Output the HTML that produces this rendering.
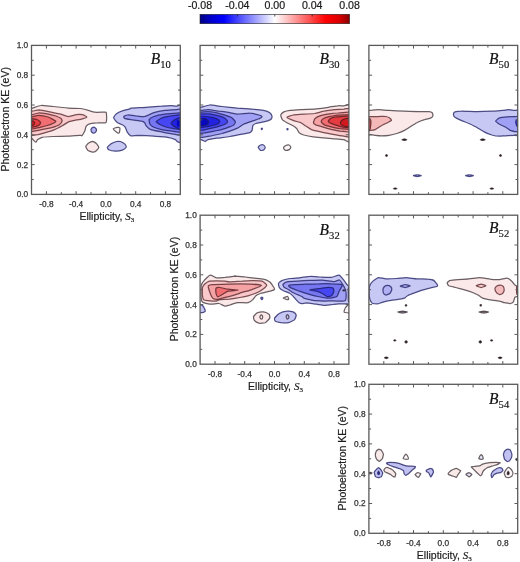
<!DOCTYPE html>
<html><head><meta charset="utf-8"><title>Figure</title>
<style>
html,body{margin:0;padding:0;background:#fff;}
svg{display:block;}
.tl{font-family:"Liberation Sans",Arial,sans-serif;font-size:8.3px;fill:#333;stroke:#333;stroke-width:0.25px;}
.cl{font-family:"Liberation Sans",Arial,sans-serif;font-size:10.6px;fill:#1a1a1a;stroke:#1a1a1a;stroke-width:0.2px;}
.al{font-family:"Liberation Sans",Arial,sans-serif;font-size:10.5px;fill:#1e1e1e;stroke:#1e1e1e;stroke-width:0.2px;}
.si{font-family:"Liberation Serif","Times New Roman",serif;font-style:italic;font-size:11px;}
.ss{font-family:"Liberation Serif","Times New Roman",serif;font-size:7px;}
.pl{font-family:"Liberation Serif","Times New Roman",serif;font-style:italic;font-size:15.5px;fill:#111;stroke:#111;stroke-width:0.2px;}
.sb{font-style:normal;font-size:10.6px;stroke-width:0.15px;}
</style></head>
<body>
<svg width="520" height="562" viewBox="0 0 520 562">
<defs><linearGradient id="cb" x1="0" x2="1" y1="0" y2="0"><stop offset="0" stop-color="#000080"/><stop offset="0.07" stop-color="#0000c8"/><stop offset="0.16" stop-color="#0000ff"/><stop offset="0.5" stop-color="#ffffff"/><stop offset="0.84" stop-color="#ff0000"/><stop offset="0.93" stop-color="#dc0000"/><stop offset="1" stop-color="#880000"/></linearGradient></defs>
<rect x="200" y="14.3" width="149.6" height="9.4" fill="url(#cb)" stroke="#222" stroke-width="0.6"/>
<text x="200" y="9" class="cl" text-anchor="middle">-0.08</text>
<text x="237.4" y="9" class="cl" text-anchor="middle">-0.04</text>
<text x="274.8" y="9" class="cl" text-anchor="middle">0.00</text>
<text x="312.2" y="9" class="cl" text-anchor="middle">0.04</text>
<text x="349.6" y="9" class="cl" text-anchor="middle">0.08</text>
<path d="M237.4 14.3v2.2 M274.8 14.3v2.2 M312.2 14.3v2.2" stroke="#222" stroke-width="0.8"/>
<g>
<clipPath id="cB10"><rect x="31.5" y="45.4" width="148.8" height="149.0"/></clipPath>
<g clip-path="url(#cB10)" stroke="rgba(30,16,24,0.66)" stroke-width="1.25" stroke-linejoin="round">
<path fill="#fbe9e9" d="M25.4 109.6 C26 106.8 30.1 108.9 31.5 108.5 C33 108.2 38.8 105.6 40.8 105.5 C42.8 105.3 50.5 106.3 53.1 106.5 C55.7 106.8 65.9 107.9 68.5 108.1 C71 108.3 78.9 108.3 80.8 108.5 C82.6 108.8 87.2 110 88.5 110.4 C89.8 110.7 93 112.1 94.6 112.2 C96.2 112.4 104.4 112.1 105.5 112.2 C106.6 112.3 106.4 112.8 106.4 113.7 C106.5 114.5 106.5 120.5 106.4 121.3 C106.4 122.2 106.3 122.7 105.5 122.8 C104.6 122.9 98.6 122.7 97.3 122.8 C96 122.8 92.4 123.1 91.5 123.3 C90.6 123.4 88.2 124.4 87.7 124.7 C87.2 125.1 86 126.5 85.8 127.1 C85.5 127.7 85.2 130.2 84.8 131 C84.4 131.8 82.3 135.4 81.9 135.8 C81.5 136.2 82 135.3 80.8 135.3 C79.5 135.4 71 136.1 68.5 136.2 C65.9 136.3 55.5 136.4 53.1 136.5 C50.6 136.6 43.7 137 42.3 137.3 C40.9 137.6 38.3 139.2 37.7 139.6 C37.1 140.1 36.2 142.2 35.8 142.2 C35.5 142.3 34.2 140.7 33.8 140.4 C33.4 140 32.3 138.6 31.5 138.4 C30.7 138.2 26 141.1 25.4 138.4 C24.8 135.7 24.8 112.4 25.4 109.6 Z"/>
<path fill="#f8c8ca" stroke="rgba(70,22,26,0.72)" d="M25.4 111.2 C26 108.9 31 111.3 32.3 111.2 C33.6 111 37.6 109.9 39.2 109.9 C40.9 110 48 111.5 50 111.9 C52 112.3 59 113.8 60.8 114.2 C62.5 114.7 67 116.5 68.5 116.5 C69.9 116.6 74.9 114.9 76.2 114.7 C77.4 114.5 81.3 114.5 82.3 114.7 C83.3 114.9 86.9 116.6 86.9 117 C86.9 117.4 83.5 118.5 82.3 118.8 C81.2 119.2 75.9 120.1 74.6 120.4 C73.3 120.7 69.6 121.4 68.5 121.9 C67.3 122.4 63.6 125.1 62.3 125.8 C61 126.5 56.2 129 54.6 129.6 C53 130.3 47 132.2 45.4 132.7 C43.8 133.2 38.9 134.4 37.7 134.7 C36.5 134.9 33.5 135.3 32.3 135.3 C31.2 135.4 26 137.6 25.4 135.3 C24.7 133.1 24.7 113.4 25.4 111.2 Z"/>
<path fill="#f4a2a4" stroke="rgba(70,22,26,0.72)" d="M27.4 114.7 C27.8 113.1 30.7 114.9 31.7 114.7 C32.8 114.6 37.2 113.1 38.7 113 C40.1 112.9 45.7 113.6 47.3 113.8 C48.9 114.1 54.7 115.6 56 116 C57.3 116.5 60.6 118.1 61.2 118.6 C61.7 119.1 62.2 120.6 62 121.2 C61.9 121.8 60.4 124.1 59.4 124.7 C58.5 125.3 53.2 127.2 51.6 127.7 C50.1 128.1 44.4 129.1 43 129.4 C41.6 129.7 38 130.5 36.9 130.7 C35.9 130.9 32.6 131.5 31.7 131.6 C30.8 131.7 27.8 133.2 27.4 131.6 C27 130 27 116.3 27.4 114.7 Z"/>
<path fill="#f06e72" stroke="rgba(70,22,26,0.72)" d="M27.4 116.9 C27.8 115.7 30.7 117 31.7 116.9 C32.8 116.7 37.1 115.4 38.7 115.4 C40.2 115.4 46.6 116.5 48.2 117 C49.8 117.6 55.3 120.6 55.8 121.2 C56.2 121.8 53.7 123.1 52.9 123.5 C52.1 123.9 48.5 125.2 47.3 125.5 C46.1 125.9 41.6 127 40.4 127.3 C39.2 127.5 35.1 128.4 34.3 128.6 C33.5 128.7 32.4 128.9 31.7 129 C31.1 129 27.8 130.1 27.4 129 C27 127.9 27 118 27.4 116.9 Z"/>
<path fill="#e43c40" stroke="rgba(70,22,26,0.72)" d="M27.4 118.6 C27.8 117.8 30.8 118.5 31.7 118.6 C32.6 118.7 36.1 119.1 36.9 119.5 C37.7 119.8 40.1 121.6 40.4 122.1 C40.6 122.6 39.9 124.3 39.5 124.7 C39.1 125.1 36.8 126.2 36.1 126.4 C35.3 126.6 32.5 127.2 31.7 127.3 C30.9 127.3 27.8 128.1 27.4 127.3 C27 126.5 27 119.4 27.4 118.6 Z"/>
<path fill="#d01a1e" stroke="rgba(70,22,26,0.72)" d="M28 120.7 C28.4 120.2 31.3 120.6 31.8 120.7 C32.3 120.8 33.3 121.4 33.6 121.6 C33.9 121.8 34.6 122.7 34.6 123 C34.6 123.3 34.1 124.5 33.8 124.7 C33.5 124.9 32.3 125.5 31.8 125.6 C31.3 125.7 28.4 126.1 28 125.6 C27.6 125.1 27.6 121.2 28 120.7 Z"/>
<path fill="#c8c8f5" stroke="rgba(26,26,96,0.76)" d="M113.7 117.5 C113.8 117 115.7 114.3 116.5 113.7 C117.3 113 121.1 111.2 122.3 110.8 C123.6 110.3 129.2 109.1 130 108.8 C130.8 108.6 129.3 108.2 130.8 108.1 C132.3 107.9 143.3 107.5 146.2 107.3 C149 107.1 159.2 106.2 161.5 106.1 C163.8 105.9 169.3 105.5 170.8 105.5 C172.2 105.5 175.5 106.1 176.9 106.1 C178.4 106 185.3 101.7 186.2 105 C187 108.3 186.9 137.7 186.2 141.2 C185.4 144.6 178.7 142.1 177.7 141.9 C176.7 141.8 176.3 140 175.4 139.6 C174.5 139.2 169.7 137.6 167.7 137.3 C165.7 137 156.6 136.4 153.8 136.2 C151.1 136 140.6 135.4 138.5 135.3 C136.3 135.3 131.8 136.1 130.8 135.8 C129.7 135.5 127.6 132.7 127.1 131.9 C126.6 131.1 125.7 127.8 125.2 127.1 C124.7 126.4 122.1 124.6 121.3 124.2 C120.6 123.8 118.1 123.2 117.5 122.8 C116.9 122.3 115 119.9 114.6 119.4 C114.3 118.9 113.5 118 113.7 117.5 Z"/>
<path fill="#a0a0f4" stroke="rgba(26,26,96,0.76)" d="M123.8 116.5 C124.1 116.2 126.6 115.1 127.7 115 C128.8 114.9 133.8 115.6 135.4 115.8 C137 115.9 142.9 116.8 144.6 116.5 C146.3 116.3 152 113.3 153.8 112.7 C155.7 112.1 162.5 110.7 164.6 110.4 C166.8 110.1 174.9 109.7 176.9 109.6 C178.9 109.5 185.3 107.3 186.2 109.6 C187 111.9 187.3 131.9 186.2 134.2 C185 136.5 176.1 134.4 173.8 134.2 C171.5 134 163.7 132.4 161.5 131.9 C159.4 131.5 152.2 130.2 150.8 129.6 C149.3 129 146.7 126.4 146.2 125.8 C145.6 125.1 145 123.1 144.6 122.7 C144.2 122.3 142.8 121.4 141.5 121.2 C140.2 120.9 132.3 119.9 130.8 119.6 C129.2 119.4 125.3 118.7 124.6 118.4 C124 118.1 123.6 116.9 123.8 116.5 Z"/>
<path fill="#7676f0" stroke="rgba(26,26,96,0.76)" d="M149.2 119.6 C149.6 118.9 152.4 117 153.8 116.5 C155.3 116 162.5 114.5 164.6 114.2 C166.8 113.9 174.9 113.3 176.9 113.2 C178.9 113.1 185.3 111.4 186.2 113.2 C187 114.9 187.4 130.2 186.2 131.9 C184.9 133.6 174.6 131.4 172.3 131.2 C170 130.9 163.3 130 161.5 129.6 C159.8 129.3 154.9 127.8 153.8 127.3 C152.8 126.8 150.4 124.9 150 124.2 C149.6 123.5 148.9 120.3 149.2 119.6 Z"/>
<path fill="#4646f2" stroke="rgba(26,26,96,0.76)" d="M156.2 121.6 C156.4 121.2 159.3 119.4 160 119 C160.7 118.6 163.3 117.4 164.2 117.1 C165.1 116.8 169 116.2 170 116 C171 115.8 173.6 115.5 175 115.4 C176.4 115.3 184.1 113.6 185 115 C185.9 116.4 185.6 128.6 185 130 C184.4 131.4 180.2 129.7 179 129.5 C177.8 129.3 173.5 128.5 172.3 128.3 C171.1 128.1 167.1 127.3 166 127 C164.9 126.7 161.8 125.4 161 125 C160.2 124.6 157.9 123.3 157.5 123 C157.1 122.7 156 122 156.2 121.6 Z"/>
<path fill="#2222e0" stroke="rgba(26,26,96,0.76)" d="M171.1 123.2 C171.1 122.8 172.5 121.4 173 121 C173.5 120.6 175.5 119.3 176 119 C176.5 118.7 177.7 118.1 178.5 118 C179.3 117.9 184.4 116.5 185 117.5 C185.6 118.5 185.6 128 185 129 C184.4 130 179.3 128.6 178.5 128.5 C177.7 128.4 176.5 127.8 176 127.5 C175.5 127.2 173.5 125.9 173 125.5 C172.5 125.1 171.1 123.6 171.1 123.2 Z"/>
<path fill="#0808c0" stroke="none" d="M177.5 119.5 C176.7 119.8 176.8 122.3 176.8 123 C176.8 123.7 176.7 126.2 177.5 126.5 C178.3 126.8 184.3 127.2 185 126.5 C185.7 125.8 185.7 120.2 185 119.5 C184.3 118.8 178.3 119.2 177.5 119.5 Z"/>
<path fill="#b4b4f2" stroke="rgba(26,26,96,0.76)" d="M91.1 129 C91.2 128.7 92.6 127.4 93 127.3 C93.4 127.2 95.1 127.6 95.4 127.9 C95.7 128.1 96.5 129.6 96.5 130 C96.5 130.4 95.7 132.1 95.4 132.4 C95.1 132.7 93.4 133.2 93 133.1 C92.6 133 91.5 131.8 91.3 131.4 C91.2 131.1 90.9 129.4 91.1 129 Z"/>
<path fill="#fbf7f7" d="M113.2 129 C113.1 128.5 116.4 127.4 117 127.3 C117.6 127.2 119.7 127.6 119.9 128.1 C120.1 128.6 119.6 131.9 119.4 132.4 C119.2 132.9 118.6 133.4 118 133.1 C117.4 132.8 113.3 129.6 113.2 129 Z"/>
<path fill="#fbe9e9" d="M85.8 146.3 C85.9 145.7 88 143.4 88.7 143 C89.3 142.5 91.8 141.3 92.5 141.3 C93.2 141.4 95.8 142.9 96.3 143.5 C96.9 144 98.8 146.6 98.8 147.3 C98.8 148 96.9 150.2 96.3 150.7 C95.8 151.1 93.3 152.2 92.5 152.1 C91.7 152.1 88.3 150.7 87.7 150.2 C87.1 149.7 85.7 147 85.8 146.3 Z"/>
<path fill="#c8c8f5" stroke="rgba(26,26,96,0.76)" d="M107.4 147.3 C107.6 146.8 109.9 144.5 110.8 143.9 C111.6 143.4 115.6 141.8 116.5 141.5 C117.4 141.3 119.6 141.3 120.4 141.5 C121.2 141.8 124.7 143.9 125.2 144.4 C125.7 145 126.4 146.8 126.2 147.3 C125.9 147.8 123.3 149.8 122.3 150.2 C121.3 150.6 116.8 151.2 115.6 151.2 C114.3 151.1 109.6 150.1 108.8 149.7 C108.1 149.4 107.2 147.8 107.4 147.3 Z"/>
</g>
</g>
<g>
<clipPath id="cB30"><rect x="200.1" y="45.4" width="148.8" height="149.0"/></clipPath>
<g clip-path="url(#cB30)" stroke="rgba(30,16,24,0.66)" stroke-width="1.25" stroke-linejoin="round">
<path fill="#c8c8f5" stroke="rgba(26,26,96,0.76)" d="M194.4 108.1 C195 105.1 199.1 107.6 200.5 107.3 C202 107 207.8 105.1 209.8 105 C211.8 104.9 219.5 106.3 222.1 106.5 C224.7 106.8 234.6 107.8 237.5 108.1 C240.3 108.3 250.4 108.9 252.8 109.2 C255.3 109.4 262 110.1 263.6 110.4 C265.2 110.7 269 112.1 269.8 112.7 C270.6 113.3 272 115.9 272.1 116.5 C272.1 117.2 271.3 119.1 270.5 119.6 C269.7 120.1 265 121.6 263.6 121.9 C262.3 122.3 256.9 123.1 255.9 123.5 C254.9 123.8 253.2 125.1 252.8 125.8 C252.5 126.4 252.4 129.7 252.1 130.4 C251.8 131 250.7 132.3 249.8 132.7 C248.8 133.1 243.9 133.9 242.1 134.2 C240.2 134.6 232.1 136.2 229.8 136.5 C227.5 136.9 219.5 137.8 217.5 138.1 C215.5 138.4 209.4 139.3 208.2 139.6 C207.1 139.9 205.7 141.4 205.2 141.5 C204.7 141.5 203.3 140.6 202.8 140.4 C202.4 140.2 201.3 139.7 200.5 139.6 C199.7 139.5 195 142.6 194.4 139.6 C193.8 136.7 193.8 111.1 194.4 108.1 Z"/>
<path fill="#a0a0f4" stroke="rgba(26,26,96,0.76)" d="M194.4 110.4 C195 107.9 200 110.5 201.3 110.4 C202.6 110.3 206.6 109.5 208.2 109.6 C209.9 109.7 217 110.9 219 111.2 C221 111.4 228 112.4 229.8 112.7 C231.5 113 235.6 114.2 237.5 114.2 C239.3 114.3 247.8 113.1 249.8 113.2 C251.8 113.2 257.9 114.7 259 115 C260.1 115.3 262.1 116.5 262.1 116.8 C262.1 117.2 260.1 118.4 259 118.8 C257.9 119.3 251.2 121.4 249.8 121.9 C248.3 122.4 244.8 123.7 243.6 124.2 C242.5 124.8 238.8 127.4 237.5 128.1 C236.2 128.7 231.2 130.7 229.8 131.2 C228.3 131.7 223.8 133 222.1 133.5 C220.4 133.9 213.2 135.4 211.3 135.8 C209.4 136.1 202.9 137.2 201.3 137.3 C199.7 137.5 195 139.8 194.4 137.3 C193.7 134.8 193.7 112.9 194.4 110.4 Z"/>
<path fill="#7676f0" stroke="rgba(26,26,96,0.76)" d="M196.4 112.1 C196.8 110.1 199.5 112.2 200.7 112.1 C201.9 112.1 207.5 111.5 209.4 111.7 C211.2 111.8 218.6 113.3 220.6 113.8 C222.7 114.4 229.6 116.6 231 117.3 C232.4 118 235.1 120.9 235.3 121.6 C235.6 122.4 234.3 124.5 233.6 125.1 C232.9 125.7 228.8 127.2 227.6 127.7 C226.3 128.1 222.1 129.5 220.6 129.9 C219.2 130.2 213.5 131.3 212 131.6 C210.4 131.9 205.2 132.7 204.2 132.9 C203.1 133 201.5 133.3 200.7 133.3 C200 133.4 196.8 135.3 196.4 133.3 C196 131.3 196 114.1 196.4 112.1 Z"/>
<path fill="#4646f2" stroke="rgba(26,26,96,0.76)" d="M196.4 113.8 C196.8 112.3 199.5 113.8 200.7 113.8 C201.9 113.8 207.8 113.7 209.4 113.8 C211 114 216.6 115.2 218 115.6 C219.5 116 224.1 117.6 225 118.2 C225.8 118.7 227.6 121.1 227.6 121.6 C227.6 122.2 225.8 123.8 225 124.2 C224.2 124.7 220.1 126 218.9 126.4 C217.7 126.8 213.4 127.8 212 128.1 C210.6 128.4 205.2 129.7 204.2 129.9 C203.1 130.1 201.5 130.2 200.7 130.3 C200 130.3 196.8 131.8 196.4 130.3 C196 128.8 196 115.4 196.4 113.8 Z"/>
<path fill="#2222e0" stroke="rgba(26,26,96,0.76)" d="M196.4 116 C196.8 114.9 199.5 115.9 200.7 116 C201.9 116.1 207.9 116.6 209.4 116.9 C210.8 117.1 215.3 118.2 216.3 118.6 C217.3 119 219.6 120.7 219.8 121.2 C219.9 121.7 218.7 123.4 218 123.8 C217.4 124.2 214 125.2 212.8 125.5 C211.7 125.8 207.1 126.6 205.9 126.8 C204.8 127 201.6 127.5 200.7 127.5 C199.8 127.6 196.8 128.6 196.4 127.5 C196 126.4 196 117.1 196.4 116 Z"/>
<path fill="#0808c0" stroke="rgba(26,26,96,0.76)" d="M196.4 118.2 C196.8 117.5 199.9 118.1 200.7 118.2 C201.5 118.2 204.3 118.3 205.1 118.6 C205.8 118.9 208.3 120.7 208.5 121.2 C208.8 121.7 208.1 123.8 207.7 124.2 C207.2 124.6 204.8 125.4 204.2 125.5 C203.5 125.7 201.5 125.8 200.7 125.8 C200 125.8 196.8 126.5 196.4 125.8 C196 125.1 196 118.9 196.4 118.2 Z"/>
<path fill="#fbe9e9" d="M280.8 115 C280.9 114.3 283 112.4 283.8 111.9 C284.7 111.5 288.4 110.6 290 110.4 C291.6 110.2 298.3 109.8 300.8 109.6 C303.2 109.5 313.6 109.1 316.2 108.8 C318.7 108.6 326.5 107.6 328.5 107.3 C330.5 107 336.3 105.9 337.7 105.8 C339.1 105.6 342.1 105.8 343.8 105.8 C345.6 105.7 355 101.6 356.2 105 C357.3 108.4 357 139.3 356.2 142.7 C355.3 146.1 348.1 141.4 346.9 141.2 C345.8 140.9 345 139.8 343.8 139.6 C342.7 139.4 336.5 139 334.6 138.8 C332.7 138.7 325.9 138 323.8 137.8 C321.8 137.6 314.9 137.1 313.1 136.8 C311.2 136.6 305.1 135.4 303.8 135 C302.6 134.6 299.9 133.3 299.2 132.7 C298.6 132.1 297.5 129.5 296.9 128.8 C296.3 128.2 294 126.3 293.1 125.8 C292.1 125.2 287.9 123.3 286.9 122.7 C285.9 122.1 282.9 120.3 282.3 119.6 C281.7 118.9 280.6 115.7 280.8 115 Z"/>
<path fill="#f8c8ca" stroke="rgba(70,22,26,0.72)" d="M286.9 117.3 C286.9 116.8 291.5 115.3 293.1 115 C294.7 114.7 301.8 114.4 303.8 114.2 C305.9 114.1 312.7 113.7 314.6 113.5 C316.5 113.2 322 111.5 323.8 111.2 C325.7 110.8 332.7 109.8 334.6 109.6 C336.5 109.4 341.8 109.2 343.8 109.2 C345.9 109.1 355 106.3 356.2 108.8 C357.3 111.4 357.3 134 356.2 136.5 C355 139.1 346.1 136.4 343.8 136.2 C341.5 136 333.7 134.6 331.5 134.2 C329.4 133.8 322.6 132.4 320.8 131.9 C318.9 131.5 313 130.2 311.5 129.6 C310.1 129 306.4 126.4 305.4 125.8 C304.4 125.1 301.9 123.2 300.8 122.7 C299.6 122.2 294.4 120.9 293.1 120.4 C291.8 119.9 286.9 117.8 286.9 117.3 Z"/>
<path fill="#f4a2a4" stroke="rgba(70,22,26,0.72)" d="M313.7 121.6 C313.8 121.2 314.7 118.7 315.4 118.2 C316 117.6 319.3 116 320.6 115.6 C321.9 115.2 327.6 114.1 329.2 113.8 C330.8 113.6 336.1 113.1 337.9 113 C339.7 112.8 346.8 112.2 348.3 112.1 C349.7 112 353 110.3 353.5 112.1 C353.9 114 353.9 130.2 353.5 132 C353 133.9 349.6 132.1 348.3 132 C347 131.9 341.2 131.4 339.6 131.2 C338 130.9 332.6 129.8 331 129.4 C329.3 129 323.7 127.2 322.3 126.8 C320.9 126.4 317.1 125.4 316.2 125.1 C315.4 124.8 313.9 123.7 313.7 123.4 C313.4 123 313.5 122.1 313.7 121.6 Z"/>
<path fill="#f06e72" stroke="rgba(70,22,26,0.72)" d="M321.4 120.8 C321.6 120.3 323.2 118.6 324 118.2 C324.8 117.8 328.8 116.7 330.1 116.4 C331.4 116.2 336.2 115.3 337.9 115.1 C339.6 115 346.8 114.8 348.3 114.7 C349.7 114.7 353 113.3 353.5 114.7 C353.9 116.1 353.9 128.1 353.5 129.4 C353 130.8 349.6 129.5 348.3 129.4 C347 129.3 341.2 128.8 339.6 128.6 C338 128.3 332.3 127.2 331 126.8 C329.6 126.5 325.8 125.5 324.9 125.1 C324.1 124.7 322.2 123.3 321.9 122.9 C321.6 122.5 321.2 121.2 321.4 120.8 Z"/>
<path fill="#e43c40" stroke="rgba(70,22,26,0.72)" d="M328.4 120.8 C328.5 120.4 330.2 118.5 331 118.2 C331.7 117.8 335 117 336.2 116.9 C337.3 116.7 341.9 116.5 343.1 116.4 C344.2 116.4 347.3 116 348.3 116 C349.2 116 353 114.9 353.5 116 C353.9 117.1 353.9 126.6 353.5 127.7 C353 128.8 349.4 127.8 348.3 127.7 C347.1 127.6 342.6 127.1 341.3 126.8 C340.1 126.5 335.6 125.1 334.4 124.7 C333.3 124.3 329.8 122.9 329.2 122.5 C328.7 122.1 328.2 121.2 328.4 120.8 Z"/>
<path fill="#d01a1e" stroke="rgba(70,22,26,0.72)" d="M340.5 122.5 C340.6 122.1 341.7 120.3 342.2 119.9 C342.7 119.5 345.1 118.8 345.7 118.6 C346.2 118.5 347.5 118.4 348.3 118.3 C349 118.3 353 117.6 353.5 118.3 C353.9 119.1 353.9 126 353.5 126.8 C353 127.6 349.1 126.9 348.3 126.8 C347.5 126.8 345.5 126.6 344.8 126.4 C344.2 126.2 341.8 125 341.3 124.7 C340.9 124.3 340.4 122.9 340.5 122.5 Z"/>
<path fill="#a0a0f4" stroke="rgba(26,26,96,0.76)" d="M261.3 128.5 C261.4 128.4 262 128.2 262.1 128.2 C262.2 128.3 262.4 128.9 262.4 129 C262.3 129.1 261.7 129.5 261.6 129.5 C261.5 129.4 261.3 128.7 261.3 128.5 Z"/>
<path fill="#c8c8f5" stroke="rgba(26,26,96,0.76)" d="M258.2 147.3 C258.2 146.8 260 145.2 260.5 145 C261 144.8 263.2 144.8 263.6 145 C264 145.2 265.2 146.8 265.2 147.3 C265.2 147.8 264 149.8 263.6 150.1 C263.2 150.4 261 150.6 260.5 150.4 C260 150.1 258.2 147.8 258.2 147.3 Z"/>
<path fill="#fbf7f7" d="M283.5 148.1 C283.5 147.6 284.9 146.1 285.4 145.8 C285.9 145.5 288.7 144.9 289.2 145 C289.7 145.1 290.8 146.9 290.8 147.3 C290.8 147.7 289.7 149.3 289.2 149.6 C288.7 149.9 285.9 150.5 285.4 150.4 C284.9 150.2 283.5 148.5 283.5 148.1 Z"/>
<path fill="#a0a0f4" stroke="rgba(26,26,96,0.76)" d="M286.9 128.8 C287 128.7 287.6 128.5 287.7 128.5 C287.8 128.6 288 129.3 288 129.5 C288 129.6 287.3 129.8 287.2 129.8 C287.1 129.7 286.9 129 286.9 128.8 Z"/>
</g>
</g>
<g>
<clipPath id="cB50"><rect x="368.9" y="45.4" width="148.8" height="149.0"/></clipPath>
<g clip-path="url(#cB50)" stroke="rgba(30,16,24,0.66)" stroke-width="1.25" stroke-linejoin="round">
<path fill="#fbe9e9" d="M361.4 111.2 C362 109.1 368.2 110.5 369.1 110.4 C370 110.3 371.4 110.1 372.2 110.1 C372.9 110 376.9 109.6 378.3 109.6 C379.7 109.6 386.9 110.3 389.1 110.4 C391.3 110.5 401.9 111.1 404.5 111.2 C407 111.3 417.8 111.6 419.8 111.6 C421.9 111.7 428.1 111.5 429.1 111.6 C430.1 111.7 431.8 112.3 432.2 112.7 C432.5 113 433.1 115.3 432.9 115.8 C432.8 116.2 431.3 117.8 430.6 118.1 C429.9 118.4 425.6 119.2 424.5 119.6 C423.3 120 417.9 122.1 416.8 122.7 C415.6 123.3 411.6 125.9 410.6 126.5 C409.6 127.2 405.6 129.8 404.5 130.4 C403.3 131 398.1 133.1 396.8 133.5 C395.5 133.9 390.4 135.1 389.1 135.3 C387.8 135.5 382.5 135.8 381.4 135.8 C380.2 135.8 376.1 135.4 375.2 135.3 C374.3 135.2 371.8 134.7 370.6 134.7 C369.5 134.6 362.2 136.7 361.4 134.7 C360.6 132.7 360.7 113.2 361.4 111.2 Z"/>
<path fill="#f5b8b8" stroke="rgba(70,22,26,0.72)" d="M361.4 116.5 C362 115.4 367.7 116.5 369.1 116.5 C370.5 116.5 376.9 116.5 378.3 116.5 C379.7 116.5 385 116.4 386 116.5 C387 116.7 389.4 117.8 389.8 118.1 C390.3 118.4 391.6 120 391.4 120.4 C391.2 120.8 388.4 122.2 387.5 122.7 C386.7 123.1 382.4 125.2 381.4 125.8 C380.4 126.3 376.1 129.2 375.2 129.6 C374.3 130 371.8 130.3 370.6 130.4 C369.5 130.5 362.2 131.8 361.4 130.7 C360.6 129.5 360.7 117.7 361.4 116.5 Z"/>
<path fill="#d84848" stroke="rgba(70,22,26,0.72)" d="M361.4 118.1 C362 117.1 368.3 117.8 369.1 118.1 C369.9 118.3 370.8 120.5 370.9 121.2 C371.1 121.8 370.7 125.1 370.6 125.8 C370.5 126.5 370.6 129.3 369.8 129.6 C369.1 129.9 362.1 130.6 361.4 129.6 C360.7 128.7 360.7 119 361.4 118.1 Z"/>
<path fill="#c8c8f5" stroke="rgba(26,26,96,0.76)" d="M453.4 114.2 C453.4 113.8 454.3 112.2 454.9 111.9 C455.6 111.7 459.3 111.2 461.1 111.2 C462.9 111.1 473.9 111.6 476.5 111.6 C479 111.6 489.7 111.3 491.8 111.2 C494 111.1 501.2 110.5 502.6 110.4 C504 110.3 507.7 109.6 508.8 109.6 C509.8 109.6 513.6 110.3 514.9 110.4 C516.2 110.4 523.4 108.3 524.2 110.4 C524.9 112.5 524.9 133.2 524.2 135.3 C523.4 137.4 516.5 135.3 514.9 135.3 C513.4 135.3 507 135.7 505.7 135.8 C504.4 135.8 500.7 136.3 499.5 136.2 C498.4 136.2 493.1 135.4 491.8 135 C490.6 134.6 485.4 132.6 484.2 131.9 C482.9 131.3 477.7 128 476.5 127.3 C475.2 126.6 470.1 124 468.8 123.5 C467.5 122.9 462.2 120.9 461.1 120.4 C459.9 119.9 455.6 117.8 454.9 117.3 C454.3 116.8 453.4 114.7 453.4 114.2 Z"/>
<path fill="#a0a0f4" stroke="rgba(26,26,96,0.76)" d="M495.7 121.2 C495.7 120.6 498.6 118.1 499.5 117.8 C500.5 117.4 505.9 116.9 507.2 116.8 C508.5 116.7 513.5 116.6 514.9 116.5 C516.3 116.5 523.4 115.3 524.2 116.5 C524.9 117.8 524.9 129.9 524.2 131.2 C523.4 132.4 516.1 131.7 514.9 131.6 C513.8 131.6 511.1 130.7 510.3 130.4 C509.5 130 506.6 127.8 505.7 127.3 C504.8 126.8 500.4 124.7 499.5 124.2 C498.7 123.7 495.7 121.7 495.7 121.2 Z"/>
<path fill="#4646f2" stroke="rgba(26,26,96,0.76)" d="M515.7 121.9 C515.7 121.3 516.5 119.8 517.2 119.6 C517.9 119.4 523.6 119.1 524.2 119.6 C524.7 120.1 524.7 125.2 524.2 125.8 C523.6 126.3 517.9 126.9 517.2 126.5 C516.5 126.2 515.7 122.5 515.7 121.9 Z"/>
<path fill="#2a2a2a" d="M402 139.7 C402 139.6 404 138.9 404.4 138.9 C404.8 138.9 406.8 139.6 406.8 139.7 C406.8 139.8 404.8 140.4 404.4 140.4 C404 140.4 402 139.8 402 139.7 Z"/>
<path fill="#2a2a2a" d="M480.3 139.7 C480.3 139.6 482.3 138.9 482.7 138.9 C483.1 138.9 485.1 139.6 485.1 139.7 C485.1 139.8 483.1 140.4 482.7 140.4 C482.3 140.4 480.3 139.8 480.3 139.7 Z"/>
<path fill="#2a2a2a" d="M385.6 155.4 C385.6 155.2 386.4 154.5 386.5 154.5 C386.6 154.5 387.4 155.2 387.4 155.4 C387.4 155.6 386.6 156.3 386.5 156.3 C386.4 156.3 385.6 155.6 385.6 155.4 Z"/>
<path fill="#2a2a2a" d="M499.6 155.4 C499.6 155.2 500.4 154.5 500.5 154.5 C500.6 154.5 501.4 155.2 501.4 155.4 C501.4 155.6 500.6 156.3 500.5 156.3 C500.4 156.3 499.6 155.6 499.6 155.4 Z"/>
<path fill="#c8c8f5" stroke="rgba(26,26,96,0.76)" d="M413.3 175.7 C413.3 175.5 416.6 174.8 417.3 174.8 C418 174.8 421.3 175.5 421.3 175.7 C421.3 175.8 418 176.6 417.3 176.6 C416.6 176.6 413.3 175.8 413.3 175.7 Z"/>
<path fill="#c8c8f5" stroke="rgba(26,26,96,0.76)" d="M465.5 175.7 C465.5 175.5 468.8 174.8 469.5 174.8 C470.2 174.8 473.5 175.5 473.5 175.7 C473.5 175.8 470.2 176.6 469.5 176.6 C468.8 176.6 465.5 175.8 465.5 175.7 Z"/>
<path fill="#2a2a2a" d="M393.4 188.6 C393.4 188.5 394.9 187.9 395.2 187.9 C395.5 187.9 397 188.5 397 188.6 C397 188.7 395.5 189.2 395.2 189.2 C394.9 189.2 393.4 188.7 393.4 188.6 Z"/>
<path fill="#2a2a2a" d="M490 188.6 C490 188.5 491.5 187.9 491.8 187.9 C492.1 187.9 493.6 188.5 493.6 188.6 C493.6 188.7 492.1 189.2 491.8 189.2 C491.5 189.2 490 188.7 490 188.6 Z"/>
</g>
</g>
<g>
<clipPath id="cB32"><rect x="200.1" y="215.2" width="148.8" height="149.0"/></clipPath>
<g clip-path="url(#cB32)" stroke="rgba(30,16,24,0.66)" stroke-width="1.25" stroke-linejoin="round">
<path fill="#fbe9e9" d="M201.2 285.6 C201.4 283.9 203.3 281.4 204.2 280.4 C205 279.4 209.1 275.4 210.2 275.2 C211.4 274.9 214.9 277.6 216.3 277.8 C217.7 278 223.2 277.5 225 277.4 C226.7 277.2 234.5 276.2 235.3 276.1 C236.2 275.9 233.5 276 234.4 276.1 C235.3 276.2 243.3 276.8 245.2 277 C247 277.2 252.7 277.9 254.4 278.1 C256.1 278.3 262.2 278.8 263.6 279.2 C265.1 279.5 268.9 281.3 269.8 281.9 C270.6 282.5 272.4 285.1 272.8 285.8 C273.3 286.5 274.7 289.1 274.4 289.6 C274.1 290.1 271.1 290.8 269.8 291.2 C268.5 291.5 261.8 293 260.5 293.5 C259.2 293.9 256.6 295.2 255.9 295.8 C255.2 296.3 253.6 299 252.8 299.6 C252.1 300.3 249.7 302.4 248.2 302.7 C246.8 303 239.2 302.5 237.5 302.7 C235.7 302.9 230.9 304.7 229.8 305 C228.6 305.3 226.2 306.4 225.2 306.2 C224.1 306.1 220.2 303.7 219 303.5 C217.8 303.3 213.2 304.2 212 304.2 C210.8 304.2 206.8 303.5 205.9 303.3 C205 303.1 202.9 302.5 202.5 302 C202 301.6 201.3 300.1 201.2 298.6 C201 297 200.9 287.3 201.2 285.6 Z"/>
<path fill="#f8c8ca" stroke="rgba(70,22,26,0.72)" d="M202.5 287.3 C202.7 286.2 204.4 284.4 205.1 283.8 C205.7 283.3 208.3 281.5 209.4 281.2 C210.4 281 214.9 280.8 216.3 280.8 C217.8 280.8 223.7 281.1 225 281.2 C226.2 281.4 228.2 281.9 229.8 281.9 C231.4 281.9 239.9 281.3 242.1 281.2 C244.2 281 251 280.7 252.8 280.7 C254.7 280.7 260.8 280.8 262.1 281.2 C263.4 281.6 266.4 284.4 266.7 285 C267 285.6 265.5 287 265 287.5 C264.5 288 261.9 289.9 261 290.5 C260.1 291.1 256.2 293 255 293.5 C253.8 294 249.4 295.4 248 295.8 C246.6 296.2 241.7 297.2 240 297.5 C238.3 297.8 231.7 298.9 229.8 299.2 C227.8 299.4 220.3 299.6 219 299.8 C217.7 300 217.4 301.1 216.3 301.2 C215.2 301.2 208.8 300.8 207.7 300.7 C206.5 300.6 204.2 300.3 203.8 299.9 C203.3 299.4 202.6 297.1 202.5 296 C202.3 294.8 202.2 288.4 202.5 287.3 Z"/>
<path fill="#f4a2a4" stroke="rgba(70,22,26,0.72)" d="M208.5 285.8 C208.8 285.5 210.1 284.9 211.9 284.7 C213.7 284.5 224.4 284.2 228.1 284.1 C231.8 284 248 284 251.1 284.1 C254.2 284.2 261.5 285.1 261.5 285.6 C261.5 286.1 253.1 289.1 251.1 289.8 C249.1 290.5 241.7 292.6 239.6 293.3 C237.5 294 230 296.3 228.1 296.8 C226.2 297.3 220.2 298.9 218.8 299.1 C217.4 299.3 213.9 299 213.1 298.5 C212.3 298 210.6 294.3 210.2 293.3 C209.8 292.3 208.7 288.7 208.5 288 C208.3 287.3 208.2 286.1 208.5 285.8 Z"/>
<path fill="#f06e72" stroke="rgba(70,22,26,0.72)" d="M216 288.1 C216.4 287.6 218.9 287.4 220 287.5 C221.1 287.6 226.4 289 228.1 289.2 C229.8 289.4 238.2 289.9 238.2 290.1 C238.2 290.3 229.6 290.8 228.1 291.2 C226.6 291.6 223.3 294 222.3 294.5 C221.3 295 218.3 296.9 217.7 296.8 C217.1 296.7 216.2 294.1 216 293.3 C215.8 292.5 215.6 288.6 216 288.1 Z"/>
<path fill="#c8c8f5" stroke="rgba(26,26,96,0.76)" d="M278.5 283.5 C278.7 282.8 281.2 280.8 282.3 280.4 C283.4 279.9 288.3 278.8 290 278.5 C291.7 278.3 298.9 277.8 300.8 277.6 C302.6 277.4 308.1 276.4 310 276.4 C311.9 276.3 318.8 276.9 320.8 277 C322.8 277.1 329.8 277.5 331.5 277.3 C333.2 277.1 337.9 275 339 275.2 C340.1 275.4 342.6 278.7 343.4 279.6 C344.2 280.5 346.8 284.5 347.4 285.2 C348 285.9 349.6 286.1 350 287 C350.4 287.9 352 293.5 352 295 C352 296.5 350.6 302.8 350 303.6 C349.4 304.4 346.6 303.9 345.8 303.9 C345 303.9 342.2 303.7 341 303.8 C339.8 303.9 334.6 304.4 333 304.5 C331.4 304.6 325.4 305.3 323.8 305.3 C322.3 305.3 317.7 304.5 316.2 304.2 C314.6 304 308.2 302.9 306.9 302.8 C305.6 302.8 302.7 303.6 302 303.6 C301.3 303.6 299.6 303.1 299.1 302.8 C298.6 302.5 296.8 300.5 296.2 299.9 C295.6 299.3 293.4 296.5 292.8 295.9 C292.2 295.3 290.2 293.5 289.3 293 C288.4 292.5 284.4 291.2 283.5 290.7 C282.6 290.2 280 288.5 279.5 287.8 C279 287.1 278.2 284.2 278.5 283.5 Z"/>
<path fill="#a0a0f4" stroke="rgba(26,26,96,0.76)" d="M283.1 284.2 C283.4 283.9 285.6 282.2 286.9 281.9 C288.3 281.6 295.5 281.3 297.7 281.2 C299.8 281 307.7 280.5 310 280.4 C312.3 280.3 320.1 280 322.3 280.1 C324.5 280.2 332.4 281.5 334 281.5 C335.6 281.5 338.6 279.8 339.4 280 C340.2 280.2 341.7 282.8 342.2 283.6 C342.7 284.4 344.6 287.4 345 288.4 C345.4 289.4 346.2 292.9 346.2 294 C346.2 295.1 346 299.7 345.4 300.4 C344.8 301.1 341.4 301.2 340.2 301.2 C339 301.2 334.5 300.8 333 300.8 C331.5 300.8 325.7 301.2 323.8 301.2 C322 301.1 314.9 300.7 313.1 300.4 C311.2 300.1 304.9 298.4 303.8 298.1 C302.8 297.7 302.6 296.8 302 296.5 C301.4 296.2 298.3 295 297.4 294.6 C296.5 294.2 293.1 292.7 292.2 292.2 C291.3 291.7 289 290 288.2 289.5 C287.4 289 284.6 287.6 284.1 287.2 C283.6 286.8 283.1 285.3 283 285 C282.9 284.7 282.7 284.5 283.1 284.2 Z"/>
<path fill="#7676f0" stroke="rgba(26,26,96,0.76)" d="M288.5 285.8 C288.6 285.5 291.5 284.8 293.1 284.7 C294.7 284.5 302.9 284.3 305.4 284.2 C307.8 284.1 316.8 283.8 319.2 283.8 C321.7 283.7 329.5 283.7 331.5 283.8 C333.6 283.8 340 284.2 341 284.4 C342 284.6 342.3 285.2 342.2 285.8 C342.1 286.4 339.9 289.8 339.4 290.8 C338.9 291.8 337.6 295.8 337 296.4 C336.4 297 333.9 297.4 333 297.6 C332.1 297.8 328.3 298.2 326.9 298.1 C325.5 298 319.4 296.9 317.7 296.5 C316 296.2 310.2 294.7 308.5 294.2 C306.7 293.7 300.8 291.7 299.2 291.2 C297.7 290.6 292.5 288.6 291.5 288.1 C290.5 287.6 288.3 286.1 288.5 285.8 Z"/>
<path fill="#4646f2" stroke="rgba(26,26,96,0.76)" d="M310 289.9 C310.4 289.7 319 288.6 320.8 288.4 C322.5 288.1 327.3 287.3 328.5 287.3 C329.6 287.3 332.6 287.6 333.1 288.1 C333.6 288.5 334 291.2 333.8 291.9 C333.7 292.6 332.2 295.3 331.5 295.8 C330.9 296.2 327.8 296.8 326.9 296.5 C326.1 296.3 323.3 294 322.3 293.5 C321.3 293 317.3 291.5 316.2 291.2 C315 290.8 309.6 290.2 310 289.9 Z"/>
<path fill="#c8c8f5" stroke="rgba(26,26,96,0.76)" d="M196.4 304.6 C196.8 303.9 199.7 304.5 200.3 304.6 C200.9 304.7 202.1 305.1 202.5 305.5 C202.9 305.9 204.4 308.4 204.6 308.9 C204.9 309.5 205.3 311.2 205.1 311.5 C204.9 311.9 202.9 312.5 202.5 312.6 C202 312.7 200.9 312.6 200.3 312.6 C199.7 312.6 196.8 313.3 196.4 312.6 C196 311.8 196 305.4 196.4 304.6 Z"/>
<path fill="#fbe9e9" d="M253.6 316.5 C253.9 315.8 256.5 313.1 257.5 312.7 C258.4 312.3 262.5 311.8 263.6 311.9 C264.7 312.1 268.4 313.7 269 314.2 C269.6 314.8 270.1 317.3 269.8 318.1 C269.4 318.9 266.2 322.2 265.2 322.7 C264.1 323.2 260 323.4 259 323.2 C258 322.9 254.9 321 254.4 320.4 C253.9 319.8 253.3 317.3 253.6 316.5 Z"/>
<path fill="none" d="M259.8 317.3 C259.7 316.9 260.6 315.1 260.8 315 C261.1 314.9 262.2 315.5 262.4 315.8 C262.5 316.1 262.6 317.8 262.5 318.1 C262.4 318.4 261.6 319.2 261.3 319.2 C261 319.1 259.8 317.7 259.8 317.3 Z"/>
<path fill="#c8c8f5" stroke="rgba(26,26,96,0.76)" d="M274.6 318.1 C275 317.4 278.1 314.1 279.2 313.5 C280.4 312.8 285.6 311.3 286.9 311.2 C288.2 311 292.2 311.6 293.1 311.9 C293.9 312.3 296 314.3 296.2 315 C296.3 315.7 295.3 318.9 294.6 319.6 C293.9 320.3 289.8 322.4 288.5 322.7 C287.2 323 282 322.8 280.8 322.7 C279.5 322.5 276 321.6 275.4 321.2 C274.8 320.7 274.3 318.8 274.6 318.1 Z"/>
<path fill="none" d="M286.2 317 C286.1 316.6 286.7 314.8 286.9 314.7 C287.1 314.5 288.3 315.2 288.5 315.5 C288.6 315.7 288.9 317.4 288.8 317.8 C288.7 318.1 287.6 319.2 287.4 319.2 C287.1 319.1 286.2 317.4 286.2 317 Z"/>
<path fill="#fbf7f7" d="M283.1 298.1 C283 297.8 287.2 296.4 287.7 296.5 C288.2 296.7 288.9 299.5 288.5 299.6 C288 299.8 283.1 298.4 283.1 298.1 Z"/>
<path fill="#a0a0f4" stroke="rgba(26,26,96,0.76)" d="M260.8 298.1 C260.8 297.8 261.6 297 261.8 297 C262 297 262.8 297.8 262.8 298.1 C262.9 298.3 262.3 299.6 262.1 299.6 C261.9 299.6 260.9 298.3 260.8 298.1 Z"/>
<path fill="#fbf7f7" d="M344.2 310.9 C344.3 310.5 345.1 308.2 345.4 307.7 C345.7 307.2 347.4 305.6 347.8 305.3 C348.2 305 349.6 304.4 350 304.3 C350.4 304.2 351.8 303.5 352 304.3 C352.2 305.1 352.7 311.7 352 312.5 C351.3 313.3 345.3 312.6 344.6 312.5 C343.9 312.4 344.1 311.3 344.2 310.9 Z"/>
<path fill="#141460" stroke="none" d="M347.9 287.8 C348.1 286.5 349.8 286.5 350 287.8 C350.2 289.1 350.2 300.2 350 301.5 C349.8 302.8 348.1 302.8 347.9 301.5 C347.7 300.2 347.7 289.1 347.9 287.8 Z"/>
<path fill="#2a2a2a" d="M342.8 290.4 C342.8 290.3 343.6 289.9 343.8 289.9 C344 289.9 344.8 290.3 344.8 290.4 C344.8 290.5 344 290.9 343.8 290.9 C343.6 290.9 342.8 290.5 342.8 290.4 Z"/>
</g>
</g>
<g>
<clipPath id="cB52"><rect x="368.9" y="215.2" width="148.8" height="149.0"/></clipPath>
<g clip-path="url(#cB52)" stroke="rgba(30,16,24,0.66)" stroke-width="1.25" stroke-linejoin="round">
<path fill="#c8c8f5" stroke="rgba(26,26,96,0.76)" d="M369.4 286.5 C369.6 285.6 371.4 282.7 372.2 281.9 C372.9 281.2 377.2 277.9 378.3 277.6 C379.5 277.4 384.5 278.8 386 278.8 C387.5 278.9 395.1 278.6 396.8 278.5 C398.4 278.4 404.3 277.6 406 277.6 C407.7 277.6 415 278.7 416.8 278.8 C418.6 279 426.1 279 427.5 279.2 C428.9 279.3 432.9 279.9 433.7 280.4 C434.5 280.9 437.3 284.5 437.5 285 C437.8 285.5 437.3 286.3 436.8 286.5 C436.2 286.8 431.9 287.4 430.6 287.8 C429.3 288.1 422.7 290 421.4 290.4 C420.1 290.8 416.4 292.2 415.2 292.7 C414.1 293.1 408.4 295.3 407.5 295.8 C406.6 296.2 405.4 297.8 404.5 298.1 C403.6 298.4 398.1 299.4 396.8 299.6 C395.5 299.8 390.4 300.4 389.1 300.7 C387.8 300.9 382.3 302.4 381.4 302.7 C380.4 302.9 378.3 303.7 377.5 303.8 C376.8 303.8 372.8 303.5 372.2 303.2 C371.5 302.8 370.1 300 369.8 299.2 C369.6 298.3 369.1 293.7 369.1 292.7 C369 291.6 369.1 287.4 369.4 286.5 Z"/>
<path fill="#b0b0f2" stroke="rgba(26,26,96,0.76)" d="M382.9 289.6 C383 289 384.1 286.9 384.5 286.5 C384.8 286.2 387 285.3 387.5 285.3 C388.1 285.3 390.3 286.2 390.6 286.5 C391 286.9 391.9 289 391.8 289.6 C391.8 290.2 390.3 293 389.8 293.5 C389.4 293.9 386.5 295 386 295 C385.5 295 383.9 293.9 383.7 293.5 C383.4 293 382.9 290.2 382.9 289.6 Z"/>
<path fill="#b0b0f2" stroke="rgba(26,26,96,0.76)" d="M400.2 286.2 C400.1 286 404.4 284.6 405.2 284.5 C406.1 284.5 410.3 285.5 410.3 285.8 C410.3 286 406.5 287.4 405.7 287.5 C404.8 287.5 400.2 286.5 400.2 286.2 Z"/>
<path fill="#fbe9e9" d="M447.2 282.7 C447.4 282.2 449.4 280.6 450.3 280.4 C451.2 280.1 456.5 279.7 458 279.6 C459.5 279.5 467 279 468.8 278.8 C470.6 278.7 477.7 277.6 479.5 277.6 C481.3 277.6 488.6 279 490.3 279.2 C492 279.3 498.1 279.7 499.5 279.6 C500.9 279.5 506.2 277.9 507.2 278.1 C508.3 278.2 511.2 280.6 511.8 281.2 C512.5 281.7 514.3 284.4 514.9 285 C515.6 285.6 519.2 287.2 519.5 288.1 C519.9 289 519.9 295 519.5 295.8 C519.2 296.5 515.4 296.8 514.9 297.3 C514.4 297.8 513.8 301.4 513.4 301.9 C513 302.4 511.1 303.4 510.3 303.5 C509.5 303.5 505.1 302.9 504.2 302.7 C503.3 302.5 500.8 301.4 499.5 301.2 C498.3 300.9 490.2 299.9 488.8 299.6 C487.4 299.4 483.5 298.5 482.6 298.1 C481.7 297.7 479.2 295.6 478 295 C476.8 294.4 470.4 291.7 468.8 291.2 C467.1 290.6 459.7 288.5 458 288.1 C456.3 287.6 449.7 286.2 448.8 285.8 C447.9 285.3 447.1 283.1 447.2 282.7 Z"/>
<path fill="#f3bcbe" stroke="rgba(70,22,26,0.72)" d="M494.9 288.8 C494.9 288.3 496 286.6 496.5 286.2 C496.9 285.9 499.7 285 500.3 285 C500.9 285 503.1 286.1 503.4 286.5 C503.7 287 504.2 289.8 504.2 290.4 C504.1 291 503 293.1 502.6 293.5 C502.2 293.8 500.1 294.6 499.5 294.5 C499 294.5 496.8 293.2 496.5 292.7 C496.1 292.2 494.9 289.4 494.9 288.8 Z"/>
<path fill="#f6cccc" stroke="rgba(70,22,26,0.72)" d="M476.2 285.8 C476.2 285.5 480.3 284.1 481.1 284.1 C481.9 284.1 486 285.5 486 285.8 C486 286.1 481.9 287.5 481.1 287.5 C480.3 287.5 476.2 286.1 476.2 285.8 Z"/>
<path fill="#2a2a2a" d="M405.2 305.3 C405.2 305.2 405.9 304.6 406 304.6 C406.1 304.6 406.8 305.2 406.8 305.3 C406.8 305.4 406.1 306.1 406 306.1 C405.9 306.1 405.2 305.4 405.2 305.3 Z"/>
<path fill="#2a2a2a" d="M480 305.3 C480 305.2 480.6 304.6 480.8 304.6 C480.9 304.6 481.5 305.2 481.5 305.3 C481.5 305.4 480.9 306.1 480.8 306.1 C480.6 306.1 480 305.4 480 305.3 Z"/>
<path fill="#9a9aa6" d="M397.6 312.1 C397.6 311.9 401.8 311.1 402.6 311.1 C403.4 311.1 407.6 311.9 407.6 312.1 C407.6 312.2 403.4 313.1 402.6 313.1 C401.8 313.1 397.6 312.2 397.6 312.1 Z"/>
<path fill="#a69a9a" d="M478.8 312.1 C478.8 311.9 483 311.1 483.8 311.1 C484.7 311.1 488.8 311.9 488.8 312.1 C488.8 312.2 484.7 313.1 483.8 313.1 C483 313.1 478.8 312.2 478.8 312.1 Z"/>
<path fill="#f06e72" stroke="rgba(70,22,26,0.72)" d="M516.8 286.5 C517 285.8 519.3 285.1 519.5 285.8 C519.8 286.5 519.8 294.3 519.5 295 C519.3 295.7 517 294.9 516.8 294.2 C516.5 293.5 516.5 287.2 516.8 286.5 Z"/>
<path fill="#2a2a2a" d="M393.8 340.4 C393.8 340.3 394.6 339.8 394.8 339.8 C395 339.8 395.8 340.3 395.8 340.4 C395.8 340.5 395 341 394.8 341 C394.6 341 393.8 340.5 393.8 340.4 Z"/>
<path fill="#2a2a2a" d="M404.9 341.9 C404.9 341.7 405.9 340.7 406.1 340.7 C406.3 340.7 407.3 341.7 407.3 341.9 C407.3 342.1 406.3 343.1 406.1 343.1 C405.9 343.1 404.9 342.1 404.9 341.9 Z"/>
<path fill="#2a2a2a" d="M384.5 357.8 C384.5 357.7 386 357.1 386.3 357.1 C386.6 357.1 388.1 357.7 388.1 357.8 C388.1 357.9 386.6 358.6 386.3 358.6 C386 358.6 384.5 357.9 384.5 357.8 Z"/>
<path fill="#2a2a2a" d="M490.6 340.4 C490.6 340.3 491.4 339.8 491.6 339.8 C491.8 339.8 492.6 340.3 492.6 340.4 C492.6 340.5 491.8 341 491.6 341 C491.4 341 490.6 340.5 490.6 340.4 Z"/>
<path fill="#2a2a2a" d="M479.1 341.9 C479.1 341.7 480.1 340.7 480.3 340.7 C480.5 340.7 481.5 341.7 481.5 341.9 C481.5 342.1 480.5 343.1 480.3 343.1 C480.1 343.1 479.1 342.1 479.1 341.9 Z"/>
<path fill="#2a2a2a" d="M498.3 357.8 C498.3 357.7 499.8 357.1 500.1 357.1 C500.4 357.1 501.9 357.7 501.9 357.8 C501.9 357.9 500.4 358.6 500.1 358.6 C499.8 358.6 498.3 357.9 498.3 357.8 Z"/>
</g>
</g>
<g>
<clipPath id="cB54"><rect x="368.9" y="384.3" width="148.8" height="149.0"/></clipPath>
<g clip-path="url(#cB54)" stroke="rgba(30,16,24,0.66)" stroke-width="1.25" stroke-linejoin="round">
<path fill="#f8eae8" d="M375.4 454.2 C375.4 453.9 376.4 451 376.5 450.8 C376.7 450.5 378.6 449.2 378.8 449.2 C379.1 449.2 381.3 450.1 381.5 450.4 C381.8 450.6 383.4 453.8 383.5 454.2 C383.5 454.7 382.5 458.5 382.3 458.8 C382.1 459.2 379.5 461.3 379.2 461.3 C379 461.3 377.1 459.9 376.9 459.6 C376.7 459.4 375.6 456.8 375.5 456.5 C375.5 456.3 375.3 454.5 375.4 454.2 Z"/>
<path fill="#fbf7f7" d="M403.1 458.5 C403 458.3 404.5 455.6 404.6 455.4 C404.8 455.2 405.8 454.2 406 454.2 C406.2 454.3 407.6 455.9 407.7 456.2 C407.8 456.4 408.6 458.7 408.5 458.8 C408.4 459 406 459.4 405.8 459.4 C405.5 459.4 403.1 458.7 403.1 458.5 Z"/>
<path fill="#c2c2f2" stroke="rgba(26,26,96,0.76)" d="M386.5 463.1 C386.6 463 389.6 462.3 390 462.3 C390.4 462.3 394.8 462.6 395.4 462.7 C396 462.8 401.8 464.4 402.3 464.6 C402.8 464.8 405.7 465.7 406.2 465.8 C406.7 465.9 411 466.2 411.5 466.2 C412 466.2 415.2 466.4 415.4 466.5 C415.6 466.6 415.2 467.5 415 467.7 C414.8 467.9 411.8 470.5 411.5 470.8 C411.2 471.1 408.8 473.6 408.5 473.8 C408.2 474 406 475.4 405.8 475.4 C405.6 475.4 404.3 474 404.2 473.8 C404.1 473.6 403.7 471.1 403.5 470.8 C403.3 470.6 400.4 469 400 468.8 C399.6 468.6 395.5 467.4 395 467.2 C394.5 467 390.4 465.7 390 465.5 C389.6 465.3 387.2 464.1 387 464 C386.8 463.9 386.4 463.2 386.5 463.1 Z"/>
<path fill="#c2c2f2" stroke="rgba(26,26,96,0.76)" d="M374.2 472.3 C374.3 472 375.9 469.9 376.2 469.6 C376.4 469.4 378.2 467.5 378.5 467.5 C378.7 467.5 380.6 469.3 380.8 469.6 C381 469.9 382.7 472.7 382.7 473.1 C382.7 473.4 381.8 476.3 381.5 476.5 C381.3 476.8 378.8 477.7 378.5 477.7 C378.2 477.7 375.6 476.8 375.4 476.5 C375.2 476.3 374.2 472.7 374.2 472.3 Z"/>
<path fill="#3030b0" stroke="rgba(26,26,96,0.76)" d="M377.7 472.7 C377.7 472.5 378.5 471.1 378.6 471.2 C378.7 471.2 379.6 473.3 379.6 473.5 C379.6 473.6 378.9 474.6 378.8 474.6 C378.8 474.6 377.9 474.2 377.8 474.1 C377.8 474 377.7 472.8 377.7 472.7 Z"/>
<path fill="#f8eae8" d="M383.8 470 C383.9 469.8 385.6 467.8 385.8 467.7 C386 467.6 387.8 467.6 388.1 467.7 C388.3 467.8 390.5 468.7 390.8 468.8 C391.1 469 393.6 470.9 393.8 471.2 C394.1 471.4 395.7 473.6 395.8 473.8 C395.8 474.1 395.1 476.8 395 476.9 C394.9 477.1 393.3 476.7 393.1 476.5 C392.9 476.4 391 474.8 390.8 474.6 C390.5 474.4 388 473.2 387.7 473.1 C387.4 472.9 385.2 472.1 385 471.9 C384.8 471.8 383.8 470.2 383.8 470 Z"/>
<path fill="#fbf7f7" d="M415 474.6 C415 474.4 417.4 472.5 417.7 472.5 C418 472.4 420.7 473.6 420.8 473.8 C420.8 474.1 418.6 477.2 418.5 477.3 C418.3 477.5 417.5 477.1 417.3 476.9 C417.1 476.8 415 474.8 415 474.6 Z"/>
<path fill="#c2c2f2" stroke="rgba(26,26,96,0.76)" d="M426.2 470.4 C426.2 470.3 428.2 469.2 428.5 469.1 C428.7 469 430.6 468.3 430.8 468.3 C431 468.3 432.6 469.4 432.7 469.6 C432.8 469.8 433.5 472.1 433.5 472.3 C433.4 472.6 432.4 474.4 432.3 474.6 C432.2 474.8 430.9 477 430.8 476.9 C430.6 476.8 429.1 473.3 428.8 473.1 C428.6 472.8 426.7 471.7 426.5 471.5 C426.4 471.4 426.1 470.5 426.2 470.4 Z"/>
<path fill="#f8eae8" d="M448.1 473.5 C448.2 473.2 450.8 470.6 451.2 470.4 C451.6 470.1 455.7 468.3 456.2 468.3 C456.6 468.3 460.7 470.5 460.8 470.8 C460.9 471 458.7 473.5 458.5 473.8 C458.2 474.2 456.8 477.2 456.5 477.3 C456.3 477.4 454.6 476.7 454.2 476.5 C453.8 476.4 449.2 474.8 448.8 474.6 C448.5 474.5 448 473.7 448.1 473.5 Z"/>
<path fill="#e6e6f8" d="M465.9 474.5 C465.9 474.2 468.5 472.5 468.8 472.5 C469.1 472.5 471.9 474.2 471.9 474.5 C471.9 474.7 469.5 476.9 469.2 476.9 C468.9 476.9 465.9 474.7 465.9 474.5 Z"/>
<path fill="#e6e6f8" d="M478.8 458.5 C478.8 458.3 479.9 456 480 455.8 C480.1 455.6 481 454.6 481.2 454.6 C481.3 454.6 482.6 455.9 482.7 456.2 C482.8 456.4 483.4 458.7 483.3 458.8 C483.2 459 481.4 459.4 481.2 459.4 C480.9 459.4 478.9 458.6 478.8 458.5 Z"/>
<path fill="#f8eae8" d="M471.2 466.9 C471.2 466.8 473.8 466.6 474.2 466.5 C474.6 466.4 479.2 465.9 479.6 465.8 C480 465.7 482.1 464.4 482.6 464.2 C483.1 464 488.8 462.8 489.5 462.7 C490.2 462.6 495.2 462.3 495.7 462.3 C496.2 462.3 500.2 462.6 500.3 462.7 C500.4 462.8 497.6 464.4 497.2 464.6 C496.8 464.8 492.3 466 491.8 466.2 C491.3 466.4 487.6 467.5 487.2 467.7 C486.8 467.9 484.4 469.8 484.2 470 C484 470.2 482.7 472.1 482.6 472.3 C482.5 472.5 481.9 474.4 481.8 474.6 C481.7 474.8 480.4 475.8 480.3 475.8 C480.2 475.8 479 474.6 478.8 474.4 C478.6 474.2 476.1 471.8 475.8 471.5 C475.5 471.2 473.7 469.4 473.5 469.2 C473.3 469 471.2 467 471.2 466.9 Z"/>
<path fill="#c2c2f2" stroke="rgba(26,26,96,0.76)" d="M503.4 454.6 C503.4 454.2 504.3 451.4 504.5 451.2 C504.8 450.9 507.3 449.1 507.6 449.1 C507.9 449 510.1 449.8 510.3 450 C510.5 450.2 511.8 453.5 511.8 453.8 C511.9 454.2 511.6 457.3 511.5 457.7 C511.3 458 509.8 460.6 509.5 460.8 C509.3 461 507.5 461.6 507.2 461.5 C507 461.5 504.7 459.6 504.5 459.2 C504.3 458.9 503.4 455 503.4 454.6 Z"/>
<path fill="#c2c2f2" stroke="rgba(26,26,96,0.76)" d="M491.1 474.6 C491.1 474.3 492.4 471.8 492.6 471.5 C492.8 471.3 495.3 469.4 495.7 469.2 C496 469 499.2 467.6 499.5 467.5 C499.8 467.5 501.7 467.9 501.8 468.1 C502 468.2 503 470.2 503 470.4 C503 470.6 501.4 472.2 501.1 472.3 C500.8 472.4 497.6 473 497.2 473.1 C496.9 473.2 494.4 474.4 494.2 474.6 C493.9 474.8 492 477.7 491.8 477.7 C491.7 477.7 491 474.9 491.1 474.6 Z"/>
<path fill="#fbf7f7" d="M504.2 473.1 C504.2 472.7 505.9 469.9 506.1 469.6 C506.3 469.3 508.1 467.3 508.4 467.3 C508.6 467.3 510.8 468.9 511.1 469.2 C511.3 469.5 513 472.7 513 473.1 C513 473.4 512.1 475.9 511.8 476.2 C511.6 476.4 509.1 477.7 508.8 477.7 C508.5 477.7 505.9 477.2 505.7 476.9 C505.5 476.7 504.1 473.4 504.2 473.1 Z"/>
<path fill="#302020" d="M507.2 473.1 C507.3 472.9 508.1 471.2 508.2 471.2 C508.2 471.2 509.1 472.9 509.2 473.1 C509.2 473.2 508.7 474.5 508.6 474.6 C508.5 474.7 507.5 474.5 507.5 474.5 C507.4 474.4 507.2 473.2 507.2 473.1 Z"/>
<path fill="#2a2a2a" d="M369 473 C369 472.9 370.4 472.4 370.5 472.4 C370.6 472.4 372 472.9 372 473 C372 473.1 370.6 473.6 370.5 473.6 C370.4 473.6 369 473.1 369 473 Z"/>
<path fill="#2a2a2a" d="M515.8 459.5 C515.8 459.4 516.9 458.4 517 458.4 C517.1 458.4 518.2 459.4 518.2 459.5 C518.2 459.6 517.1 460.6 517 460.6 C516.9 460.6 515.8 459.6 515.8 459.5 Z"/>
</g>
</g>
<path d="M46.4 194.4v-3.2 M46.4 45.4v3.2 M61.3 194.4v-2.2 M61.3 45.4v2.2 M76.1 194.4v-3.2 M76.1 45.4v3.2 M91 194.4v-2.2 M91 45.4v2.2 M105.9 194.4v-3.2 M105.9 45.4v3.2 M120.8 194.4v-2.2 M120.8 45.4v2.2 M135.7 194.4v-3.2 M135.7 45.4v3.2 M150.5 194.4v-2.2 M150.5 45.4v2.2 M165.4 194.4v-3.2 M165.4 45.4v3.2 M31.5 179.5h2.2 M180.3 179.5h-2.2 M31.5 164.6h3.2 M180.3 164.6h-3.2 M31.5 149.7h2.2 M180.3 149.7h-2.2 M31.5 134.8h3.2 M180.3 134.8h-3.2 M31.5 119.9h2.2 M180.3 119.9h-2.2 M31.5 105h3.2 M180.3 105h-3.2 M31.5 90.1h2.2 M180.3 90.1h-2.2 M31.5 75.2h3.2 M180.3 75.2h-3.2 M31.5 60.3h2.2 M180.3 60.3h-2.2" stroke="#5a5a5a" stroke-width="1" fill="none"/>
<rect x="31.5" y="45.4" width="148.8" height="149" fill="none" stroke="#5a5a5a" stroke-width="1.3"/>
<text class="pl" transform="translate(150.8 63.6) scale(1 1.08)">B</text>
<text x="160.3" y="67.7" class="pl sb">10</text>
<text x="46.4" y="206.9" class="tl" text-anchor="middle">-0.8</text>
<text x="76.1" y="206.9" class="tl" text-anchor="middle">-0.4</text>
<text x="105.9" y="206.9" class="tl" text-anchor="middle">0.0</text>
<text x="135.7" y="206.9" class="tl" text-anchor="middle">0.4</text>
<text x="165.4" y="206.9" class="tl" text-anchor="middle">0.8</text>
<text x="28.2" y="197.3" class="tl" text-anchor="end">0.0</text>
<text x="28.2" y="167.5" class="tl" text-anchor="end">0.2</text>
<text x="28.2" y="137.7" class="tl" text-anchor="end">0.4</text>
<text x="28.2" y="107.9" class="tl" text-anchor="end">0.6</text>
<text x="28.2" y="78.1" class="tl" text-anchor="end">0.8</text>
<text x="28.2" y="48.3" class="tl" text-anchor="end">1.0</text>
<text x="106.9" y="219.9" class="al" text-anchor="middle">Ellipticity, <tspan class="si">S</tspan><tspan class="ss" dy="1.8">3</tspan></text>
<text x="0" y="0" class="al" text-anchor="middle" transform="translate(9 119.3) rotate(-90)">Photoelectron KE (eV)</text>
<path d="M215 194.4v-3.2 M215 45.4v3.2 M229.9 194.4v-2.2 M229.9 45.4v2.2 M244.7 194.4v-3.2 M244.7 45.4v3.2 M259.6 194.4v-2.2 M259.6 45.4v2.2 M274.5 194.4v-3.2 M274.5 45.4v3.2 M289.4 194.4v-2.2 M289.4 45.4v2.2 M304.3 194.4v-3.2 M304.3 45.4v3.2 M319.1 194.4v-2.2 M319.1 45.4v2.2 M334 194.4v-3.2 M334 45.4v3.2 M200.1 179.5h2.2 M348.9 179.5h-2.2 M200.1 164.6h3.2 M348.9 164.6h-3.2 M200.1 149.7h2.2 M348.9 149.7h-2.2 M200.1 134.8h3.2 M348.9 134.8h-3.2 M200.1 119.9h2.2 M348.9 119.9h-2.2 M200.1 105h3.2 M348.9 105h-3.2 M200.1 90.1h2.2 M348.9 90.1h-2.2 M200.1 75.2h3.2 M348.9 75.2h-3.2 M200.1 60.3h2.2 M348.9 60.3h-2.2" stroke="#5a5a5a" stroke-width="1" fill="none"/>
<rect x="200.1" y="45.4" width="148.8" height="149" fill="none" stroke="#5a5a5a" stroke-width="1.3"/>
<text class="pl" transform="translate(319.4 63.7) scale(1 1.08)">B</text>
<text x="328.9" y="67.8" class="pl sb">30</text>
<path d="M383.8 194.4v-3.2 M383.8 45.4v3.2 M398.7 194.4v-2.2 M398.7 45.4v2.2 M413.5 194.4v-3.2 M413.5 45.4v3.2 M428.4 194.4v-2.2 M428.4 45.4v2.2 M443.3 194.4v-3.2 M443.3 45.4v3.2 M458.2 194.4v-2.2 M458.2 45.4v2.2 M473.1 194.4v-3.2 M473.1 45.4v3.2 M487.9 194.4v-2.2 M487.9 45.4v2.2 M502.8 194.4v-3.2 M502.8 45.4v3.2 M368.9 179.5h2.2 M517.7 179.5h-2.2 M368.9 164.6h3.2 M517.7 164.6h-3.2 M368.9 149.7h2.2 M517.7 149.7h-2.2 M368.9 134.8h3.2 M517.7 134.8h-3.2 M368.9 119.9h2.2 M517.7 119.9h-2.2 M368.9 105h3.2 M517.7 105h-3.2 M368.9 90.1h2.2 M517.7 90.1h-2.2 M368.9 75.2h3.2 M517.7 75.2h-3.2 M368.9 60.3h2.2 M517.7 60.3h-2.2" stroke="#5a5a5a" stroke-width="1" fill="none"/>
<rect x="368.9" y="45.4" width="148.8" height="149" fill="none" stroke="#5a5a5a" stroke-width="1.3"/>
<text class="pl" transform="translate(489.1 63.7) scale(1 1.08)">B</text>
<text x="498.6" y="67.8" class="pl sb">50</text>
<path d="M215 364.2v-3.2 M215 215.2v3.2 M229.9 364.2v-2.2 M229.9 215.2v2.2 M244.7 364.2v-3.2 M244.7 215.2v3.2 M259.6 364.2v-2.2 M259.6 215.2v2.2 M274.5 364.2v-3.2 M274.5 215.2v3.2 M289.4 364.2v-2.2 M289.4 215.2v2.2 M304.3 364.2v-3.2 M304.3 215.2v3.2 M319.1 364.2v-2.2 M319.1 215.2v2.2 M334 364.2v-3.2 M334 215.2v3.2 M200.1 349.3h2.2 M348.9 349.3h-2.2 M200.1 334.4h3.2 M348.9 334.4h-3.2 M200.1 319.5h2.2 M348.9 319.5h-2.2 M200.1 304.6h3.2 M348.9 304.6h-3.2 M200.1 289.7h2.2 M348.9 289.7h-2.2 M200.1 274.8h3.2 M348.9 274.8h-3.2 M200.1 259.9h2.2 M348.9 259.9h-2.2 M200.1 245h3.2 M348.9 245h-3.2 M200.1 230.1h2.2 M348.9 230.1h-2.2" stroke="#5a5a5a" stroke-width="1" fill="none"/>
<rect x="200.1" y="215.2" width="148.8" height="149" fill="none" stroke="#5a5a5a" stroke-width="1.3"/>
<text class="pl" transform="translate(319.6 234.5) scale(1 1.08)">B</text>
<text x="329.1" y="238.6" class="pl sb">32</text>
<text x="215" y="376.7" class="tl" text-anchor="middle">-0.8</text>
<text x="244.7" y="376.7" class="tl" text-anchor="middle">-0.4</text>
<text x="274.5" y="376.7" class="tl" text-anchor="middle">0.0</text>
<text x="304.3" y="376.7" class="tl" text-anchor="middle">0.4</text>
<text x="334" y="376.7" class="tl" text-anchor="middle">0.8</text>
<text x="196.8" y="367.1" class="tl" text-anchor="end">0.0</text>
<text x="196.8" y="337.3" class="tl" text-anchor="end">0.2</text>
<text x="196.8" y="307.5" class="tl" text-anchor="end">0.4</text>
<text x="196.8" y="277.7" class="tl" text-anchor="end">0.6</text>
<text x="196.8" y="247.9" class="tl" text-anchor="end">0.8</text>
<text x="196.8" y="218.1" class="tl" text-anchor="end">1.0</text>
<text x="275.5" y="389.7" class="al" text-anchor="middle">Ellipticity, <tspan class="si">S</tspan><tspan class="ss" dy="1.8">3</tspan></text>
<text x="0" y="0" class="al" text-anchor="middle" transform="translate(177.6 289.1) rotate(-90)">Photoelectron KE (eV)</text>
<path d="M383.8 364.2v-3.2 M383.8 215.2v3.2 M398.7 364.2v-2.2 M398.7 215.2v2.2 M413.5 364.2v-3.2 M413.5 215.2v3.2 M428.4 364.2v-2.2 M428.4 215.2v2.2 M443.3 364.2v-3.2 M443.3 215.2v3.2 M458.2 364.2v-2.2 M458.2 215.2v2.2 M473.1 364.2v-3.2 M473.1 215.2v3.2 M487.9 364.2v-2.2 M487.9 215.2v2.2 M502.8 364.2v-3.2 M502.8 215.2v3.2 M368.9 349.3h2.2 M517.7 349.3h-2.2 M368.9 334.4h3.2 M517.7 334.4h-3.2 M368.9 319.5h2.2 M517.7 319.5h-2.2 M368.9 304.6h3.2 M517.7 304.6h-3.2 M368.9 289.7h2.2 M517.7 289.7h-2.2 M368.9 274.8h3.2 M517.7 274.8h-3.2 M368.9 259.9h2.2 M517.7 259.9h-2.2 M368.9 245h3.2 M517.7 245h-3.2 M368.9 230.1h2.2 M517.7 230.1h-2.2" stroke="#5a5a5a" stroke-width="1" fill="none"/>
<rect x="368.9" y="215.2" width="148.8" height="149" fill="none" stroke="#5a5a5a" stroke-width="1.3"/>
<text class="pl" transform="translate(489.1 232.5) scale(1 1.08)">B</text>
<text x="498.6" y="236.6" class="pl sb">52</text>
<path d="M383.8 533.3v-3.2 M383.8 384.3v3.2 M398.7 533.3v-2.2 M398.7 384.3v2.2 M413.5 533.3v-3.2 M413.5 384.3v3.2 M428.4 533.3v-2.2 M428.4 384.3v2.2 M443.3 533.3v-3.2 M443.3 384.3v3.2 M458.2 533.3v-2.2 M458.2 384.3v2.2 M473.1 533.3v-3.2 M473.1 384.3v3.2 M487.9 533.3v-2.2 M487.9 384.3v2.2 M502.8 533.3v-3.2 M502.8 384.3v3.2 M368.9 518.4h2.2 M517.7 518.4h-2.2 M368.9 503.5h3.2 M517.7 503.5h-3.2 M368.9 488.6h2.2 M517.7 488.6h-2.2 M368.9 473.7h3.2 M517.7 473.7h-3.2 M368.9 458.8h2.2 M517.7 458.8h-2.2 M368.9 443.9h3.2 M517.7 443.9h-3.2 M368.9 429h2.2 M517.7 429h-2.2 M368.9 414.1h3.2 M517.7 414.1h-3.2 M368.9 399.2h2.2 M517.7 399.2h-2.2" stroke="#5a5a5a" stroke-width="1" fill="none"/>
<rect x="368.9" y="384.3" width="148.8" height="149" fill="none" stroke="#5a5a5a" stroke-width="1.3"/>
<text class="pl" transform="translate(489.1 403.6) scale(1 1.08)">B</text>
<text x="498.6" y="407.7" class="pl sb">54</text>
<text x="383.8" y="545.8" class="tl" text-anchor="middle">-0.8</text>
<text x="413.5" y="545.8" class="tl" text-anchor="middle">-0.4</text>
<text x="443.3" y="545.8" class="tl" text-anchor="middle">0.0</text>
<text x="473.1" y="545.8" class="tl" text-anchor="middle">0.4</text>
<text x="502.8" y="545.8" class="tl" text-anchor="middle">0.8</text>
<text x="365.6" y="536.2" class="tl" text-anchor="end">0.0</text>
<text x="365.6" y="506.4" class="tl" text-anchor="end">0.2</text>
<text x="365.6" y="476.6" class="tl" text-anchor="end">0.4</text>
<text x="365.6" y="446.8" class="tl" text-anchor="end">0.6</text>
<text x="365.6" y="417" class="tl" text-anchor="end">0.8</text>
<text x="365.6" y="387.2" class="tl" text-anchor="end">1.0</text>
<text x="444.3" y="558.8" class="al" text-anchor="middle">Ellipticity, <tspan class="si">S</tspan><tspan class="ss" dy="1.8">3</tspan></text>
<text x="0" y="0" class="al" text-anchor="middle" transform="translate(346.4 458.2) rotate(-90)">Photoelectron KE (eV)</text>
</svg>
</body></html>
